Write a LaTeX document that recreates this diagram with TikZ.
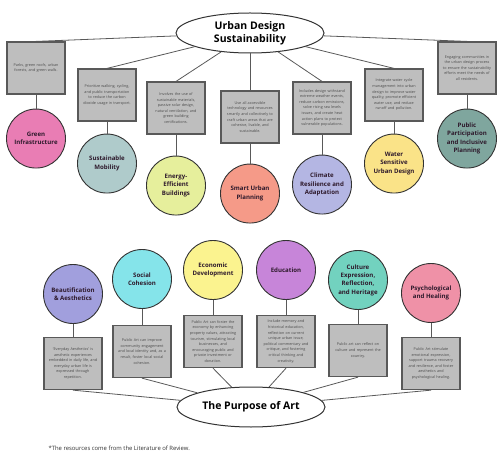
\documentclass[tikz,border=0pt]{standalone}
\usepackage{fontspec}
\setmainfont{Open Sans}
\usetikzlibrary{positioning,shapes.geometric}

\definecolor{boxgray}{HTML}{BEBEBE}
\definecolor{topictext}{HTML}{2E1A2C}
\definecolor{cGreen}{HTML}{E97DB4}
\definecolor{cMobility}{HTML}{AFCBCB}
\definecolor{cEnergy}{HTML}{E6EF9C}
\definecolor{cSmart}{HTML}{F59A88}
\definecolor{cClimate}{HTML}{B4B6E3}
\definecolor{cWater}{HTML}{FAE388}
\definecolor{cPublic}{HTML}{7FA69E}
\definecolor{cBeauty}{HTML}{A19FDD}
\definecolor{cSocial}{HTML}{85E4EA}
\definecolor{cEconomic}{HTML}{FBF38F}
\definecolor{cEducation}{HTML}{C785D9}
\definecolor{cCulture}{HTML}{72D2BF}
\definecolor{cPsych}{HTML}{EF91A7}

\begin{document}
\begin{tikzpicture}[
  x=1pt, y=-1pt,
  hub/.style={ellipse, draw=black!80, fill=white, line width=1pt, minimum width=148pt,
              minimum height=40pt, inner sep=0pt, align=center,
              font=\bfseries\fontsize{10.5}{13}\selectfont},
  note/.style={draw=black!65, fill=boxgray, line width=1.2pt, minimum width=58pt,
               minimum height=52pt, text width=57pt, inner sep=0.5pt, align=center,
               text=black!70, font=\fontsize{3.75}{5.6}\selectfont},
  topic/.style={circle, draw=black!80, line width=0.9pt, minimum size=59pt, inner sep=0pt,
                align=center, text=topictext, font=\bfseries\fontsize{6.1}{8.3}\selectfont},
  link/.style={draw=black!65, line width=0.8pt}
]
  \useasboundingbox (0,0) rectangle (500,454);

  % Top: urban design sustainability
  \node[hub] (urban) at (250,33) {Urban Design\\Sustainability};

  \node[note] (n1) at (36,68) {Parks, green roofs, urban\\forests, and green walls.};
  \node[note] (n2) at (107,95) {Prioritize walking, cycling,\\and public transportation\\to reduce the carbon\\dioxide usage in transport.};
  \node[note] (n3) at (176,108) {Involves the use of\\sustainable materials,\\passive solar design,\\natural ventilation, and\\green building\\certifications.};
  \node[note] (n4) at (250,117) {Use all accessible\\technology and resources\\smartly and collectively to\\craft urban areas that are\\cohesive, livable, and\\sustainable.};
  \node[note] (n5) at (322,108) {Includes design withstand\\extreme weather events,\\reduce carbon emissions,\\solve rising sea levels\\issues, and create heat\\action plans to protect\\vulnerable populations.};
  \node[note] (n6) at (394,95) {Integrate water cycle\\management into urban\\design to improve water\\quality, promote efficient\\water use, and reduce\\runoff and pollution.};
  \node[note] (n7) at (467,68) {Engaging communities in\\the urban design process\\to ensure the sustainability\\efforts meet the needs of\\all residents.};

  \node[topic, fill=cGreen, below=14pt of n1] (green) {Green\\Infrastructure};
  \node[topic, fill=cMobility, below=12pt of n2] (mobility) {Sustainable\\Mobility};
  \node[topic, fill=cEnergy, below=21pt of n3] (energy) {Energy-\\Efficient\\Buildings};
  \node[topic, fill=cSmart, below=20pt of n4] (smart) {Smart Urban\\Planning};
  \node[topic, fill=cClimate, below=20pt of n5] (climate) {Climate\\Resilience and\\Adaptation};
  \node[topic, fill=cWater, below=12pt of n6] (water) {Water\\Sensitive\\Urban Design};
  \node[topic, fill=cPublic, below=14pt of n7] (public) {Public\\Participation\\and Inclusive\\Planning};

  % Bottom: the purpose of art
  \node[hub] (art) at (251,407) {The Purpose of Art};

  \node[topic, fill=cBeauty] (beauty) at (73,294) {Beautification\\\& Aesthetics};
  \node[topic, fill=cSocial] (social) at (142,279) {Social\\Cohesion};
  \node[topic, fill=cEconomic] (economic) at (213,270) {Economic\\Development};
  \node[topic, fill=cEducation] (education) at (286,270) {Education};
  \node[topic, fill=cCulture] (culture) at (358,280) {Culture\\Expression,\\Reflection,\\and Heritage};
  \node[topic, fill=cPsych] (psych) at (431,293) {Psychological\\and Healing};

  \node[note, below=13pt of beauty] (m1) {`Everyday Aesthetics' is\\aesthetic experiences\\embedded in daily life, and\\everyday urban life is\\expressed through\\repetition.};
  \node[note, below=16pt of social] (m2) {Public Art can improve\\community engagement\\and local identity and, as a\\result, foster local social\\cohesion.};
  \node[note, below=15pt of economic] (m3) {Public Art can foster the\\economy by enhancing\\property values, attracting\\tourism, stimulating local\\businesses, and\\encouraging public and\\private investment or\\donation.};
  \node[note, below=15pt of education] (m4) {Include memory and\\historical education,\\reflection on current\\unique urban issue,\\political commentary and\\critique, and fostering\\critical thinking and\\creativity.};
  \node[note, below=14pt of culture] (m5) {Public art can reflect on\\culture and represent the\\country.};
  \node[note, below=14pt of psych] (m6) {Public Art stimulate\\emotional expression,\\support trauma recovery\\and resilience, and foster\\aesthetics and\\psychological healing.};

  % Connectors
  \foreach \n in {n1,n2,n3,n4,n5,n6,n7}
    \draw[link] (urban) -- (\n.north);
  \draw[link] (n1) -- (green);
  \draw[link] (n2) -- (mobility);
  \draw[link] (n3) -- (energy);
  \draw[link] (n4) -- (smart);
  \draw[link] (n5) -- (climate);
  \draw[link] (n6) -- (water);
  \draw[link] (n7) -- (public);
  \draw[link] (beauty) -- (m1);
  \draw[link] (social) -- (m2);
  \draw[link] (economic) -- (m3);
  \draw[link] (education) -- (m4);
  \draw[link] (culture) -- (m5);
  \draw[link] (psych) -- (m6);
  \foreach \m in {m1,m2,m3,m4,m5,m6}
    \draw[link] (\m.south) -- (art);

  \node[anchor=west, font=\fontsize{5.9}{7}\selectfont, text=black!80] (note) at (45,448)
    {*The resources come from the Literature of Review.};
\end{tikzpicture}
\end{document}
